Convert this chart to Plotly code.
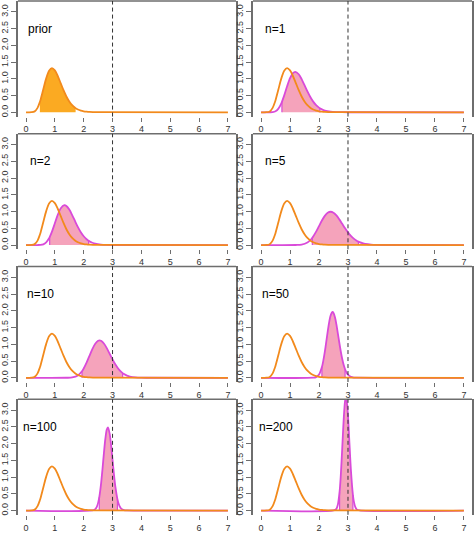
import plotly.graph_objects as go

# ---------------- data ----------------
labels = ["prior", "n=1", "n=2", "n=5", "n=10", "n=50", "n=100", "n=200"]
true_value = 3
x_ticks = [0, 1, 2, 3, 4, 5, 6, 7]
y_ticks = [0, 0.5, 1.0, 1.5, 2.0, 2.5, 3.0]
y_ticktext = ["0.0", "0.5", "1.0", "1.5", "2.0", "2.5", "3.0"]

prior_x = [0, 0.2, 0.3, 0.4, 0.48, 0.5, 0.6, 0.7, 0.8, 0.9, 1.0, 1.1, 1.2, 1.3, 1.4,
           1.5, 1.6, 1.7, 1.72, 1.8, 1.9, 2.0, 2.1, 2.2, 2.5, 7]
prior_y = [0, 0.002, 0.027, 0.132, 0.307, 0.363, 0.689, 1.014, 1.241, 1.318, 1.251,
           1.085, 0.874, 0.660, 0.473, 0.324, 0.213, 0.135, 0.123, 0.083, 0.050,
           0.029, 0.017, 0.009, 0.002, 0]
prior_interval = [0.48, 1.72]

n1_x = [0, 0.3, 0.4, 0.5, 0.6, 0.7, 0.72, 0.8, 0.9, 1.0, 1.1, 1.18, 1.3, 1.4, 1.5,
        1.6, 1.7, 1.8, 1.9, 2.0, 2.03, 2.1, 2.2, 2.4, 2.6, 2.8, 3.0, 7]
n1_y = [0, 0.000, 0.005, 0.030, 0.108, 0.268, 0.310, 0.505, 0.778, 1.018, 1.170,
        1.209, 1.137, 0.992, 0.810, 0.624, 0.457, 0.319, 0.215, 0.139, 0.122, 0.088,
        0.053, 0.018, 0.006, 0.002, 0.001, 0]
n1_interval = [0.72, 2.03]

n2_x = [0, 0.4, 0.5, 0.6, 0.7, 0.8, 0.82, 0.9, 1.0, 1.1, 1.2, 1.33, 1.4, 1.5, 1.6,
        1.7, 1.8, 1.9, 2.0, 2.1, 2.17, 2.2, 2.3, 2.4, 2.6, 2.8, 3.0, 7]
n2_y = [0, 0.000, 0.004, 0.022, 0.079, 0.202, 0.236, 0.401, 0.651, 0.901, 1.092,
        1.190, 1.167, 1.060, 0.897, 0.713, 0.535, 0.383, 0.262, 0.172, 0.126, 0.109,
        0.067, 0.040, 0.013, 0.004, 0.001, 0]
n2_interval = [0.82, 2.17]

n5_x = [0, 1.2, 1.4, 1.6, 1.7, 1.77, 1.8, 1.9, 2.0, 2.1, 2.2, 2.3, 2.4, 2.5, 2.6,
        2.7, 2.8, 2.9, 3.0, 3.1, 3.2, 3.3, 3.36, 3.4, 3.5, 3.6, 3.8, 4.0, 4.2, 7]
n5_y = [0, 0.001, 0.012, 0.074, 0.147, 0.219, 0.256, 0.400, 0.566, 0.732, 0.872,
        0.964, 0.995, 0.965, 0.884, 0.767, 0.634, 0.500, 0.378, 0.275, 0.192, 0.130,
        0.101, 0.085, 0.054, 0.033, 0.012, 0.004, 0.001, 0]
n5_interval = [1.77, 3.36]

n10_x = [0, 1.4, 1.6, 1.8, 1.94, 2.0, 2.1, 2.2, 2.3, 2.4, 2.5, 2.55, 2.6, 2.7, 2.8,
         2.9, 3.0, 3.1, 3.2, 3.3, 3.35, 3.4, 3.5, 3.6, 3.8, 4.0, 4.2, 7]
n10_y = [0, 0.001, 0.009, 0.070, 0.195, 0.278, 0.453, 0.657, 0.858, 1.018, 1.105,
         1.116, 1.105, 1.025, 0.886, 0.718, 0.548, 0.395, 0.270, 0.175, 0.139, 0.109,
         0.065, 0.037, 0.011, 0.003, 0.001, 0]
n10_interval = [1.94, 3.35]

n50_x = [0, 1.8, 1.9, 2.0, 2.1, 2.15, 2.2, 2.25, 2.3, 2.35, 2.4, 2.47, 2.5, 2.55,
         2.6, 2.65, 2.7, 2.75, 2.8, 2.85, 2.9, 2.95, 3.0, 3.1, 3.2, 3.3, 7]
n50_y = [0, 0.002, 0.019, 0.094, 0.319, 0.518, 0.774, 1.072, 1.381, 1.659, 1.862,
         1.967, 1.941, 1.810, 1.596, 1.331, 1.055, 0.794, 0.569, 0.388, 0.254, 0.159,
         0.095, 0.030, 0.008, 0.002, 0]
n50_interval = [2.1, 2.9]

n100_x = [0, 2.3, 2.4, 2.45, 2.5, 2.54, 2.6, 2.65, 2.7, 2.75, 2.8, 2.84, 2.9, 2.95,
          3.0, 3.05, 3.1, 3.17, 3.2, 3.25, 3.3, 3.4, 3.5, 7]
n100_y = [0, 0.004, 0.041, 0.103, 0.229, 0.398, 0.789, 1.228, 1.711, 2.143, 2.421,
          2.484, 2.299, 1.946, 1.507, 1.069, 0.698, 0.335, 0.234, 0.121, 0.058, 0.011,
          0.002, 0]
n100_interval = [2.54, 3.17]

n200_x = [0, 2.5, 2.6, 2.65, 2.71, 2.75, 2.8, 2.85, 2.9, 2.93, 2.95, 3.0, 3.05, 3.1,
          3.17, 3.2, 3.25, 3.3, 3.4, 7]
n200_y = [0, 0.002, 0.051, 0.173, 0.557, 1.026, 1.834, 2.697, 3.280, 3.378, 3.323,
          2.822, 2.019, 1.225, 0.466, 0.280, 0.107, 0.035, 0.002, 0]
n200_interval = [2.71, 3.17]

posteriors = [None,
              (n1_x, n1_y, n1_interval),
              (n2_x, n2_y, n2_interval),
              (n5_x, n5_y, n5_interval),
              (n10_x, n10_y, n10_interval),
              (n50_x, n50_y, n50_interval),
              (n100_x, n100_y, n100_interval),
              (n200_x, n200_y, n200_interval)]

# ---------------- styling ----------------
ORANGE = "#F28A1C"
ORANGE_FILL = "#FBAA22"
MAGENTA = "#D94AD9"
PINK = "#F5A3BB"
FRAME = "#6E6E6E"
TEXT = "#333333"
FONT = "Liberation Sans, Arial, sans-serif"

W, H = 474, 533
col_dom = [[16 / W, 235 / W], [252 / W, 472 / W]]


def row_dom(r):
    top = H / 4 * r + 1
    bot = H / 4 * r + 117
    return [1 - bot / H, 1 - top / H]


def subset(xs, ys, lo, hi):
    sx = [x for x in xs if lo <= x <= hi]
    sy = [y for x, y in zip(xs, ys) if lo <= x <= hi]
    return sx, sy


fig = go.Figure()
layout = {}
shapes = []
annotations = []

for i, lab in enumerate(labels):
    r, c = divmod(i, 2)
    suf = "" if i == 0 else str(i + 1)
    xa, ya = "x" + suf, "y" + suf

    if posteriors[i] is None:
        fx, fy = subset(prior_x, prior_y, prior_interval[0], prior_interval[1])
        fig.add_trace(go.Scatter(x=fx, y=fy, mode="lines", fill="tozeroy",
                                 fillcolor=ORANGE_FILL,
                                 line=dict(width=0, shape="spline", color=ORANGE_FILL),
                                 xaxis=xa, yaxis=ya, hoverinfo="skip", showlegend=False))
    else:
        px_, py_, iv = posteriors[i]
        fx, fy = subset(px_, py_, iv[0], iv[1])
        fig.add_trace(go.Scatter(x=fx, y=fy, mode="lines", fill="tozeroy",
                                 fillcolor=PINK,
                                 line=dict(width=0, shape="spline", color=PINK),
                                 xaxis=xa, yaxis=ya, hoverinfo="skip", showlegend=False))
        fig.add_trace(go.Scatter(x=[fx[0], fx[0], None, fx[-1], fx[-1]],
                                 y=[0, fy[0], None, 0, fy[-1]], mode="lines",
                                 line=dict(width=1.2, color=MAGENTA),
                                 xaxis=xa, yaxis=ya, hoverinfo="skip", showlegend=False))
        fig.add_trace(go.Scatter(x=px_, y=py_, mode="lines",
                                 line=dict(width=1.8, color=MAGENTA, shape="spline",
                                           smoothing=0.8),
                                 xaxis=xa, yaxis=ya, showlegend=False))

    fig.add_trace(go.Scatter(x=prior_x, y=prior_y, mode="lines",
                             line=dict(width=1.8, color=ORANGE, shape="spline",
                                       smoothing=0.8),
                             xaxis=xa, yaxis=ya, showlegend=False))

    key = "" if i == 0 else str(i + 1)
    layout["xaxis" + key] = dict(
        domain=col_dom[c], range=[-0.28, 7.28], anchor=ya,
        tickvals=x_ticks, ticks="outside", ticklen=4, tickwidth=1, tickcolor=FRAME,
        tickfont=dict(size=9, color=TEXT, family=FONT),
        showgrid=False, zeroline=False, showline=False, fixedrange=True)
    layout["yaxis" + key] = dict(
        domain=row_dom(r), range=[-0.128, 3.328], anchor=xa,
        tickvals=y_ticks, ticktext=y_ticktext, tickangle=-90,
        ticks="outside", ticklen=5, tickwidth=1, tickcolor=FRAME,
        tickfont=dict(size=9, color=TEXT, family=FONT),
        showgrid=False, zeroline=False, showline=True, mirror=True,
        linecolor=FRAME, linewidth=1.5, fixedrange=True)

    shapes.append(dict(type="line", xref=xa + " domain", yref=ya + " domain",
                       x0=0, x1=1, y0=1, y1=1, line=dict(color=FRAME, width=1.5)))
    shapes.append(dict(type="line", xref=xa, yref=ya + " domain",
                       x0=true_value, x1=true_value, y0=0, y1=1,
                       line=dict(color="#333333", width=1, dash="4px,3px")))
    annotations.append(dict(text=lab, x=0.5, y=2.5, xref=xa, yref=ya,
                            showarrow=False, xanchor="center", yanchor="middle",
                            font=dict(size=12, color="black", family=FONT)))

fig.update_layout(**layout)
fig.update_layout(width=W, height=H, margin=dict(l=0, r=0, t=0, b=0),
                  paper_bgcolor="white", plot_bgcolor="white",
                  shapes=shapes, annotations=annotations, showlegend=False)

fig.write_html("out.html")
